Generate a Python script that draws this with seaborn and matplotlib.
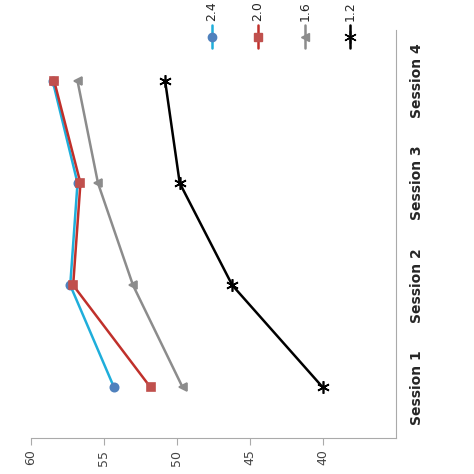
import numpy as np
import pandas as pd
import seaborn as sns
import matplotlib.pyplot as plt
from matplotlib.lines import Line2D

sessions = ["Session 1", "Session 2", "Session 3", "Session 4"]
series_names = ["2.4", "2.0", "1.6", "1.2"]
vals_24 = [54.3, 57.3, 56.8, 58.5]
vals_20 = [51.8, 57.1, 56.6, 58.4]
vals_16 = [49.6, 53.0, 55.4, 56.8]
vals_12 = [40.0, 46.2, 49.8, 50.8]
value_ticks = [60, 55, 50, 45, 40]

colors = ["#1FAEDB", "#C0302B", "#8C8C8C", "#000000"]
marker_colors = ["#4F81BD", "#C0504D", "#8C8C8C", "#000000"]
markers = ["o", "s", "<", (6, 2, 0)]
msizes = [6, 6, 6, 9]

rows = []
for name, vals in zip(series_names, [vals_24, vals_20, vals_16, vals_12]):
    for i, v in enumerate(vals):
        rows.append({"series": name, "pos": i, "value": v})
df = pd.DataFrame(rows)

sns.set_style("white")
fig = plt.figure(figsize=(4.74, 4.74), dpi=100)
ax = fig.add_axes([0.065, 0.075, 0.77, 0.862])

# chart is drawn rotated: values run along x (reversed), sessions along y
for name, c, mc, m, s in zip(series_names, colors, marker_colors, markers, msizes):
    d = df[df.series == name]
    sns.lineplot(data=d, x="value", y="pos", sort=False, estimator=None,
                 color=c, lw=1.8, marker=m, ms=s, mfc=mc, mec=mc, mew=1.2, ax=ax)

ax.set_xlim(60, 35)
ax.set_ylim(-0.5, 3.5)
ax.set_xticks(value_ticks)
ax.set_xticklabels([str(t) for t in value_ticks], rotation=90, fontsize=9, color="#444444")
ax.set_yticks(range(4))
ax.set_yticklabels([])
ax.set_xlabel("")
ax.set_ylabel("")
for i, s in enumerate(sessions):
    ax.text(1.04, (i + 0.5) / 4, s, transform=ax.transAxes, rotation=90,
            ha="left", va="center", fontsize=10, fontweight="bold")
for sp in ["top", "left"]:
    ax.spines[sp].set_visible(False)
for sp in ["bottom", "right"]:
    ax.spines[sp].set_color("#AAAAAA")
ax.tick_params(axis="x", bottom=True, length=5, color="#AAAAAA", pad=3)

# manual rotated legend along the top
leg_x = [0.447, 0.544, 0.643, 0.738]
for x, name, c, mc, m, s in zip(leg_x, series_names, colors, marker_colors, markers, msizes):
    fig.add_artist(Line2D([x, x], [0.898, 0.948], color=c, lw=1.8,
                          transform=fig.transFigure))
    fig.add_artist(Line2D([x], [0.922], marker=m, color=mc, ms=s,
                          transform=fig.transFigure))
    fig.text(x, 0.955, name, rotation=90, ha="center", va="bottom", fontsize=9)

fig.savefig("out.png", dpi=100)
